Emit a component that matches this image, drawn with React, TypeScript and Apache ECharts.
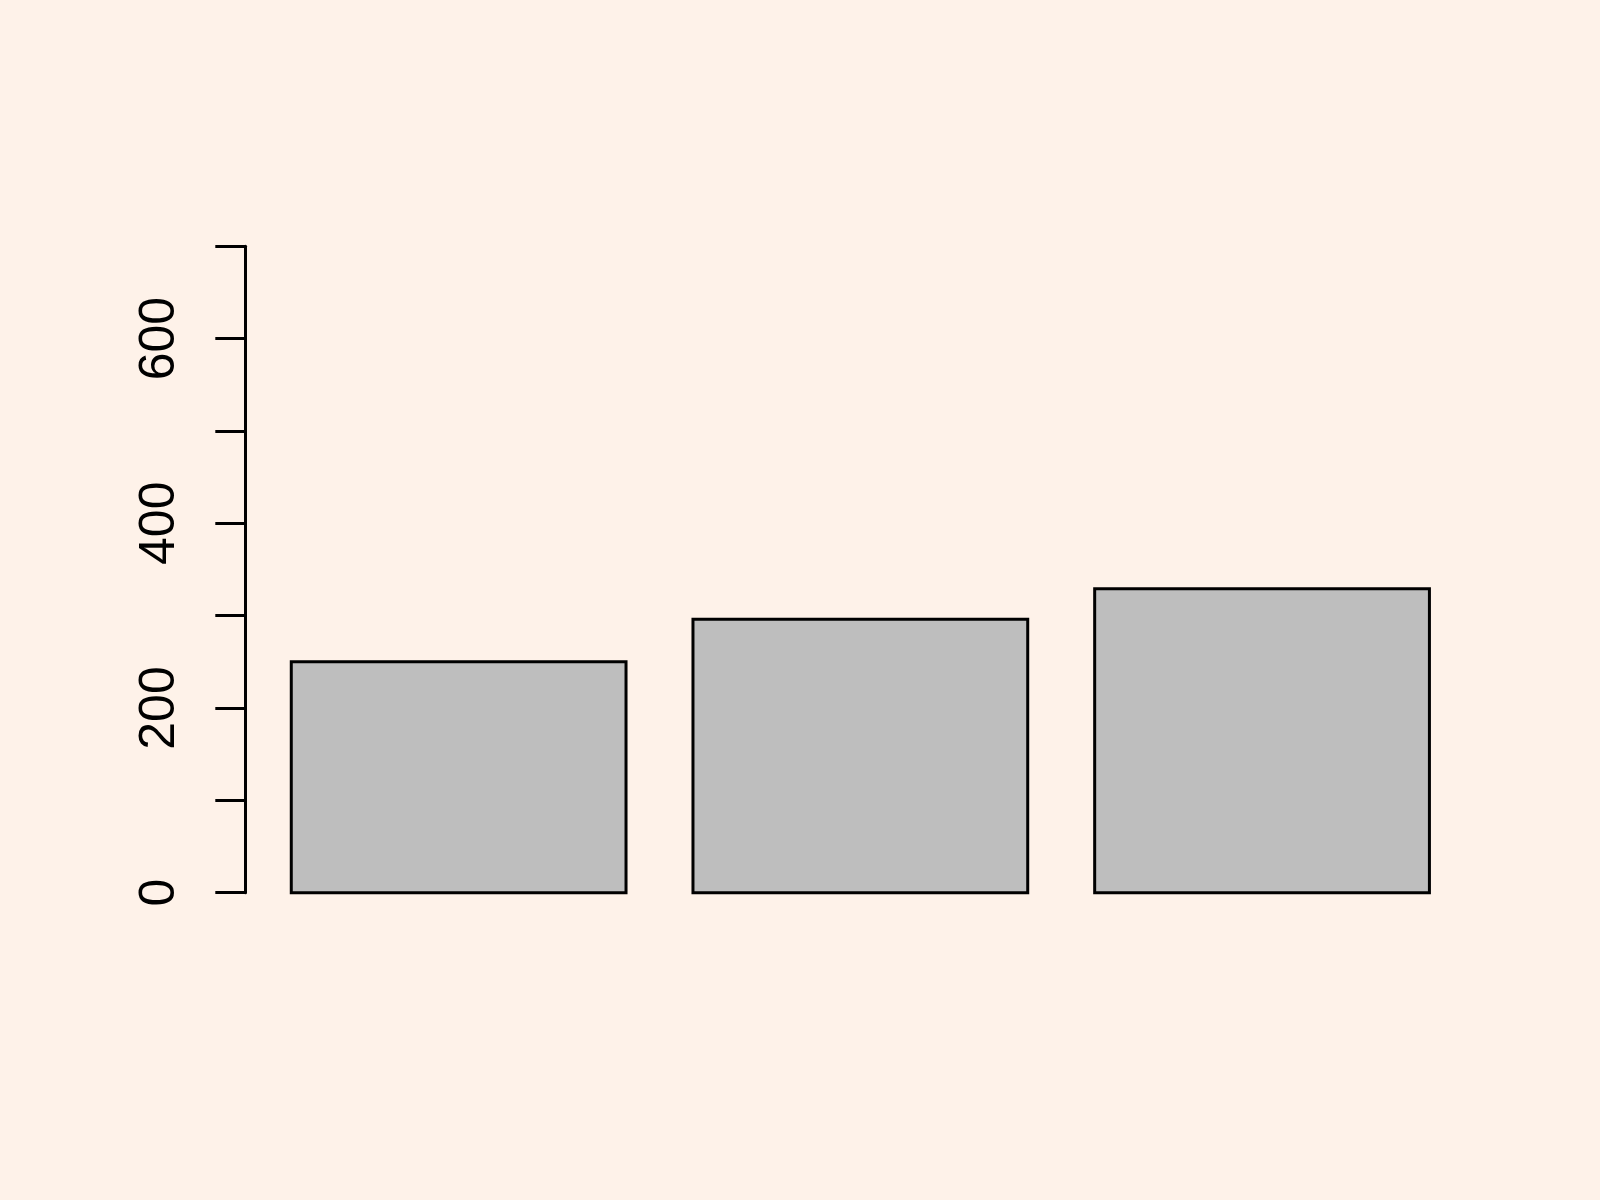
import React, { useEffect, useRef } from "react";
import * as echarts from "echarts";

const categories = ["A", "B", "C"];
const values = [250, 296, 329];
const yTicks = [0, 100, 200, 300, 400, 500, 600, 700];
const yLabels = ["0", "", "200", "", "400", "", "600", ""];

export default function App() {
  const ref = useRef<HTMLDivElement>(null);
  useEffect(() => {
    if (!ref.current) return;
    const chart = echarts.init(ref.current, null, { renderer: "svg" });
    chart.setOption({
      animation: false,
      backgroundColor: "#FEF2E9",
      grid: { left: 257.8, right: 137.1, top: 246.2, bottom: 307.3, containLabel: false },
      xAxis: {
        type: "category",
        data: categories,
        show: false,
        boundaryGap: true,
      },
      yAxis: {
        type: "value",
        min: yTicks[0],
        max: yTicks[yTicks.length - 1],
        interval: 100,
        offset: 12.5,
        splitLine: { show: false },
        axisLine: { show: true, lineStyle: { color: "#000", width: 3 } },
        axisTick: { show: true, length: 30, lineStyle: { color: "#000", width: 3 } },
        axisLabel: {
          rotate: 90,
          margin: 63,
          fontSize: 50,
          fontFamily: "Liberation Sans, Arial, sans-serif",
          color: "#000",
          formatter: (v: number) => {
            const i = yTicks.indexOf(v);
            return i >= 0 ? yLabels[i] : "";
          },
        },
      },
      series: [
        {
          type: "custom",
          data: values.map((v, i) => [i, v]),
          encode: { x: 0, y: 1 },
          renderItem: (params: any, api: any) => {
            const base = api.coord([api.value(0), 0]);
            const top = api.coord([api.value(0), api.value(1)]);
            const w = api.size([1, 0])[0] / 1.2;
            return {
              type: "rect",
              shape: { x: base[0] - w / 2, y: top[1], width: w, height: base[1] - top[1] },
              style: { fill: "#BEBEBE", stroke: "#000", lineWidth: 3 },
            };
          },
        },
      ],
    });
    return () => chart.dispose();
  }, []);
  return (
    <div
      ref={ref}
      style={{ position: "fixed", left: 0, top: 0, width: 1600, height: 1200 }}
    />
  );
}
